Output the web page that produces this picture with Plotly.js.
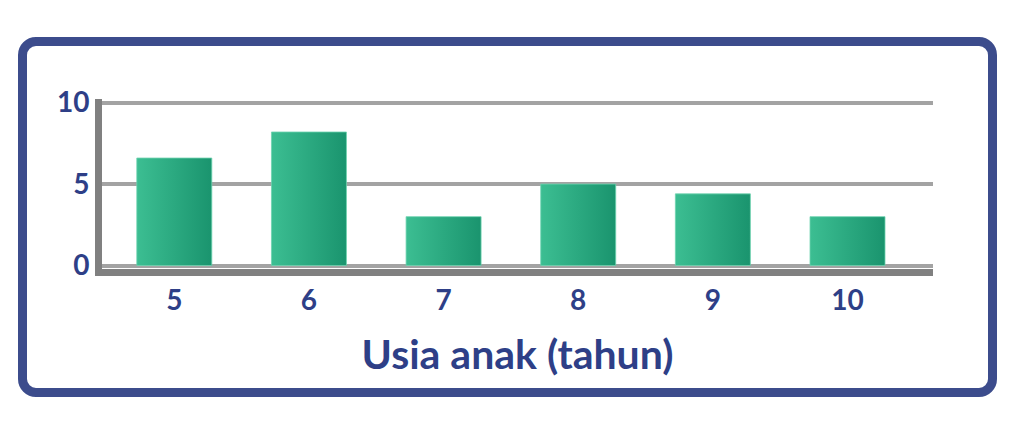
<!DOCTYPE html>
<html>
<head>
<meta charset="utf-8">
<script src="https://cdn.plot.ly/plotly-3.0.1.min.js"></script>
<style>
html,body{margin:0;padding:0;background:#fff;width:1023px;height:429px;overflow:hidden;}
#frame{position:absolute;left:18px;top:37px;width:961px;height:342px;border:9px solid #3c4c8c;border-radius:18px;}
#chart{position:absolute;left:0;top:0;width:1023px;height:429px;}
</style>
</head>
<body>
<div id="frame"></div>
<div id="chart"></div>
<script>
const categories = ['5', '6', '7', '8', '9', '10'];
const values = [6.6, 8.2, 3, 5, 4.4, 3];
const yTicks = [0, 5, 10];
const xTitle = 'Usia anak (tahun)';

const textColor = '#2e3f87';
const fontFam = 'Lato, "Open Sans", sans-serif';

const trace = {
  type: 'bar',
  x: categories,
  y: values,
  marker: {color: '#2aa880', line: {color: '#6fd3b0', width: 0.8}},
  hoverinfo: 'skip'
};

const layout = {
  width: 1023,
  height: 429,
  margin: {l: 102, r: 90, t: 99, b: 159.5, pad: 0},
  paper_bgcolor: 'rgba(0,0,0,0)',
  plot_bgcolor: 'rgba(0,0,0,0)',
  showlegend: false,
  bargap: 0.443,
  xaxis: {
    type: 'category',
    range: [-0.537, 5.635],
    showgrid: false,
    zeroline: false,
    showline: true,
    linecolor: '#808080',
    linewidth: 7,
    ticks: '',
    ticklabelstandoff: 0,
    tickfont: {family: fontFam, size: 28, color: textColor, weight: 'bold'},
    title: {text: xTitle, font: {family: fontFam, size: 41, color: textColor, weight: 'bold'}, standoff: 28}
  },
  yaxis: {
    range: [-0.214, 10.226],
    tickvals: yTicks,
    showgrid: true,
    gridcolor: '#a3a3a3',
    gridwidth: 4,
    zeroline: false,
    showline: true,
    linecolor: '#808080',
    linewidth: 7,
    ticks: '',
    ticklabelstandoff: 0,
    tickfont: {family: fontFam, size: 28, color: textColor, weight: 'bold'}
  }
};

Plotly.newPlot('chart', [trace], layout, {staticPlot: true, displayModeBar: false}).then(function(gd){
  const svg = gd.querySelector('svg.main-svg');
  const ns = 'http://www.w3.org/2000/svg';
  let defs = svg.querySelector('defs');
  if (!defs) { defs = document.createElementNS(ns, 'defs'); svg.insertBefore(defs, svg.firstChild); }
  const grad = document.createElementNS(ns, 'linearGradient');
  grad.setAttribute('id', 'barGrad');
  grad.setAttribute('x1', '0'); grad.setAttribute('y1', '0');
  grad.setAttribute('x2', '1'); grad.setAttribute('y2', '0');
  [['0', '#3cbe92'], ['1', '#1a946e']].forEach(function(s){
    const st = document.createElementNS(ns, 'stop');
    st.setAttribute('offset', s[0]);
    st.setAttribute('stop-color', s[1]);
    grad.appendChild(st);
  });
  defs.appendChild(grad);
  gd.querySelectorAll('.bars .point path').forEach(function(p){
    p.style.fill = 'url(#barGrad)';
  });
});
</script>
</body>
</html>
